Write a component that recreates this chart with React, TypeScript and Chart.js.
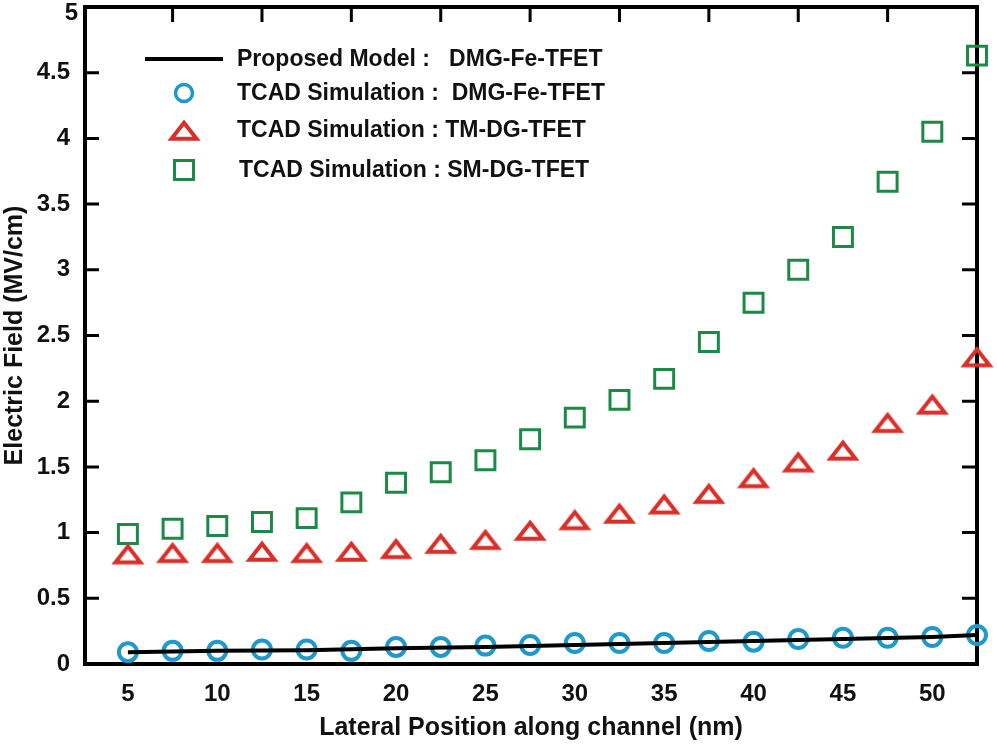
import { useEffect, useRef } from "react";
import { Chart, registerables } from "chart.js";

Chart.register(...registerables);

// Lateral positions (nm) of the TCAD samples
const positions = [5, 7.5, 10, 12.5, 15, 17.5, 20, 22.5, 25, 27.5, 30, 32.5, 35, 37.5, 40, 42.5, 45, 47.5, 50, 52.5];

// Electric field (MV/cm)
const tcadDmgFe = [0.09, 0.1, 0.1, 0.11, 0.11, 0.1, 0.13, 0.13, 0.14, 0.145, 0.16, 0.16, 0.16, 0.175, 0.17, 0.19, 0.2, 0.2, 0.205, 0.22];
const tcadTmDg = [0.84, 0.85, 0.85, 0.86, 0.85, 0.86, 0.88, 0.92, 0.95, 1.02, 1.1, 1.15, 1.22, 1.3, 1.42, 1.54, 1.63, 1.84, 1.98, 2.34];
const tcadSmDg = [0.99, 1.03, 1.05, 1.08, 1.11, 1.23, 1.38, 1.46, 1.55, 1.71, 1.875, 2.01, 2.17, 2.45, 2.75, 3.0, 3.25, 3.67, 4.05, 4.63];

// Analytical model curve
const modelX = [5, 10, 15, 20, 25, 30, 35, 40, 45, 50, 52.5];
const modelY = [0.09, 0.1, 0.105, 0.12, 0.13, 0.145, 0.16, 0.175, 0.19, 0.205, 0.22];

const xTickValues = [5, 10, 15, 20, 25, 30, 35, 40, 45, 50];
const topTickValues = [7.5, 12.5, 17.5, 22.5, 27.5, 32.5, 37.5, 42.5, 47.5];
const sideTickValues = [0.5, 1, 1.5, 2, 2.5, 3, 3.5, 4, 4.5];
const Y_MIN = 0;
const Y_MAX = 5;

const seriesLabels = [
  "Proposed Model :   DMG-Fe-TFET",
  "TCAD Simulation :  DMG-Fe-TFET",
  "TCAD Simulation : TM-DG-TFET",
  "TCAD Simulation : SM-DG-TFET",
];

const BLUE = "#1f98cc";
const RED = "#da2f29";
const GREEN = "#1b8a46";
const FONT = "'Liberation Sans', Arial, sans-serif";

function makeTriangle(color: string): HTMLCanvasElement {
  const c = document.createElement("canvas");
  c.width = 40;
  c.height = 30;
  const ctx = c.getContext("2d")!;
  ctx.strokeStyle = color;
  ctx.lineWidth = 4;
  ctx.lineJoin = "miter";
  ctx.beginPath();
  ctx.moveTo(20, 15 - 7.3);
  ctx.lineTo(32.5, 15 + 8.7);
  ctx.lineTo(7.5, 15 + 8.7);
  ctx.closePath();
  ctx.stroke();
  return c;
}

const framePlugin = {
  id: "frameAndTicks",
  beforeDatasetsDraw(chart: any) {
    const { ctx, chartArea: a, scales } = chart;
    const x = scales.x;
    const y = scales.y;
    ctx.save();
    ctx.strokeStyle = "#000";
    ctx.lineWidth = 3;
    ctx.beginPath();
    for (const v of topTickValues) {
      const px = x.getPixelForValue(v);
      ctx.moveTo(px, a.top);
      ctx.lineTo(px, a.top + 15);
    }
    for (const v of sideTickValues) {
      const py = y.getPixelForValue(v);
      ctx.moveTo(a.left, py);
      ctx.lineTo(a.left + 14, py);
      ctx.moveTo(a.right, py);
      ctx.lineTo(a.right - 15, py);
    }
    ctx.stroke();
    ctx.lineWidth = 4;
    ctx.strokeRect(a.left, a.top, a.right - a.left, a.bottom - a.top);

    // top value label sits just inside the canvas, below the frame corner
    ctx.font = `bold 24px ${FONT}`;
    ctx.fillStyle = "#111";
    ctx.textAlign = "right";
    ctx.textBaseline = "middle";
    ctx.fillText(String(Y_MAX), a.left - 7, y.getPixelForValue(Y_MAX) + 6);
    ctx.restore();
  },
};

function makeLegendPlugin(tri: HTMLCanvasElement) {
  return {
    id: "insetLegend",
    afterDraw(chart: any) {
      const { ctx, chartArea: a } = chart;
      const rows = [52, 86, 123, 163];
      const mx = a.left + 99;
      const tx = a.left + 152;
      ctx.save();
      ctx.font = `bold 23px ${FONT}`;
      ctx.fillStyle = "#111";
      ctx.textBaseline = "middle";
      ctx.textAlign = "left";

      // model line sample
      ctx.strokeStyle = "#000";
      ctx.lineWidth = 4;
      ctx.beginPath();
      ctx.moveTo(a.left + 60, a.top + rows[0]);
      ctx.lineTo(a.left + 138, a.top + rows[0]);
      ctx.stroke();

      // circle
      ctx.strokeStyle = BLUE;
      ctx.lineWidth = 3.5;
      ctx.beginPath();
      ctx.arc(mx, a.top + rows[1], 8.5, 0, Math.PI * 2);
      ctx.stroke();

      // triangle
      ctx.drawImage(tri, mx - tri.width / 2, a.top + rows[2] - tri.height / 2);

      // square
      ctx.strokeStyle = GREEN;
      ctx.lineWidth = 3;
      ctx.strokeRect(mx - 9.5, a.top + rows[3] - 9.5, 19, 19);

      seriesLabels.forEach((label, i) => {
        ctx.fillText(label, tx + (i === 3 ? 2 : 0), a.top + rows[i] + 1);
      });
      ctx.restore();
    },
  };
}

export default function App() {
  const ref = useRef<HTMLCanvasElement | null>(null);

  useEffect(() => {
    if (!ref.current) return;
    const tri = makeTriangle(RED);
    const toPts = (xs: number[], ys: number[]) => xs.map((v, i) => ({ x: v, y: ys[i] }));

    const chart = new Chart(ref.current, {
      type: "scatter",
      data: {
        datasets: [
          {
            label: seriesLabels[0],
            data: toPts(modelX, modelY),
            showLine: true,
            borderColor: "#000",
            borderWidth: 4,
            pointRadius: 0,
            fill: false,
            clip: false as any,
          },
          {
            label: seriesLabels[1],
            data: toPts(positions, tcadDmgFe),
            pointStyle: "circle",
            pointRadius: 9,
            borderColor: BLUE,
            backgroundColor: "rgba(0,0,0,0)",
            borderWidth: 4,
            clip: false as any,
          },
          {
            label: seriesLabels[2],
            data: toPts(positions, tcadTmDg),
            pointStyle: tri,
            pointRadius: 12,
            borderColor: RED,
            backgroundColor: "rgba(0,0,0,0)",
            clip: false as any,
          },
          {
            label: seriesLabels[3],
            data: toPts(positions, tcadSmDg),
            pointStyle: "rect",
            pointRadius: 13.4,
            borderColor: GREEN,
            backgroundColor: "rgba(0,0,0,0)",
            borderWidth: 3,
            clip: false as any,
          },
        ],
      },
      options: {
        animation: false,
        responsive: true,
        maintainAspectRatio: false,
        layout: { autoPadding: false, padding: { top: 7, right: 20, left: 0, bottom: 0 } },
        plugins: { legend: { display: false }, tooltip: { enabled: false } },
        scales: {
          x: {
            type: "linear",
            min: 2.6,
            max: 52.5,
            grid: { display: false },
            border: { display: false },
            afterBuildTicks: (s: any) => {
              s.ticks = xTickValues.map((v) => ({ value: v }));
            },
            afterFit: (s: any) => {
              s.height = 80;
              s.paddingLeft = 0;
              s.paddingRight = 0;
            },
            ticks: {
              color: "#111",
              padding: 8,
              maxRotation: 0,
              autoSkip: false,
              callback: (v: any) => String(v),
              font: { family: FONT, size: 24, weight: "bold" },
            },
            title: {
              display: true,
              text: "Lateral Position along channel (nm)",
              color: "#111",
              padding: { top: 0, bottom: 1 },
              font: { family: FONT, size: 25, weight: "bold" },
            },
          },
          y: {
            type: "linear",
            min: Y_MIN,
            max: Y_MAX,
            grid: { display: false },
            border: { display: false },
            afterFit: (s: any) => {
              s.width = 85;
              s.paddingTop = 0;
              s.paddingBottom = 0;
            },
            ticks: {
              stepSize: 0.5,
              color: "#111",
              padding: 7,
              // the top label is drawn by the frame plugin, nudged below the edge
              callback: (v: any) => (v === Y_MAX ? "" : String(v)),
              font: { family: FONT, size: 24, weight: "bold" },
            },
            title: {
              display: true,
              text: "Electric Field (MV/cm)",
              color: "#111",
              padding: { top: 0, bottom: 0 },
              font: { family: FONT, size: 25, weight: "bold" },
            },
          },
        },
      },
      plugins: [framePlugin, makeLegendPlugin(tri)],
    } as any);

    return () => chart.destroy();
  }, []);

  return (
    <div style={{ position: "absolute", left: 0, top: 0, width: 997, height: 744, background: "#fff" }}>
      <canvas ref={ref} />
    </div>
  );
}
